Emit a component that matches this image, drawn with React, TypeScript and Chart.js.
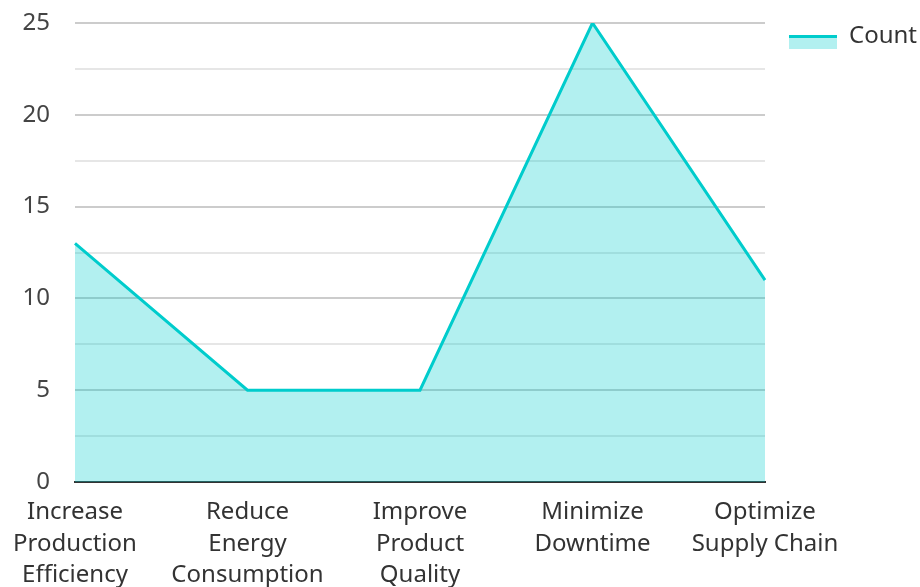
import React, { useEffect, useRef } from "react";
import { Chart, registerables } from "chart.js";

Chart.register(...registerables);

// Category labels, each split into its display lines
const categories: string[][] = [
  ["Increase", "Production", "Efficiency"],
  ["Reduce", "Energy", "Consumption"],
  ["Improve", "Product", "Quality"],
  ["Minimize", "Downtime"],
  ["Optimize", "Supply Chain"],
];

const seriesName = "Count";
const counts: number[] = [13, 5, 5, 25, 11];

const yMin = 0;
const yMax = 25;
const yStep = 2.5;
const yLabelStep = 5;

const LINE_COLOR = "#00CCCC";
const FILL_COLOR = "rgba(0, 204, 204, 0.30)";
const FONT = "'Noto Sans', 'Open Sans', sans-serif";
const FONT_SIZE = 24;

// Legend swatch: a line on top of a filled area, sitting a little below the text middle
function makeSwatch(): HTMLCanvasElement {
  const c = document.createElement("canvas");
  c.width = 48;
  c.height = 26;
  const g = c.getContext("2d")!;
  g.fillStyle = FILL_COLOR;
  g.fillRect(0, 12, 48, 14);
  g.fillStyle = LINE_COLOR;
  g.fillRect(0, 12, 48, 3);
  return c;
}

export default function App() {
  const ref = useRef<HTMLCanvasElement>(null);

  useEffect(() => {
    if (!ref.current) return;
    const swatch = makeSwatch();
    const chart = new Chart(ref.current, {
      type: "line",
      data: {
        labels: categories,
        datasets: [
          {
            label: seriesName,
            data: counts,
            borderColor: LINE_COLOR,
            backgroundColor: FILL_COLOR,
            borderWidth: 3,
            fill: "origin",
            tension: 0,
            pointRadius: 0,
            pointHoverRadius: 0,
            pointStyle: swatch as any,
          },
        ],
      },
      options: {
        responsive: false,
        animation: false,
        layout: { padding: 0 },
        plugins: {
          tooltip: { enabled: false },
          legend: {
            position: "right",
            align: "start",
            maxWidth: 155,
            labels: {
              usePointStyle: true,
              pointStyleWidth: 48,
              color: "#333",
              font: { family: FONT, size: FONT_SIZE },
              padding: 24,
            },
          },
        },
        scales: {
          x: {
            offset: false,
            grid: { display: false, drawTicks: false },
            border: { display: true, color: "#333", width: 2 },
            ticks: {
              color: "#333",
              font: { family: FONT, size: FONT_SIZE, lineHeight: 1.3 },
              padding: 15,
              maxRotation: 0,
              autoSkip: false,
            },
            afterFit: (s: any) => {
              s.height = 105;
              s.paddingLeft = 0;
              s.paddingRight = 155;
            },
          },
          y: {
            min: yMin,
            max: yMax,
            border: { display: false },
            grid: {
              drawTicks: false,
              color: (ctx: any) =>
                ctx.tick && ctx.tick.value % yLabelStep === 0 ? "#cccccc" : "#e6e6e6",
              lineWidth: 2,
            },
            ticks: {
              stepSize: yStep,
              padding: 25,
              color: "#444",
              font: { family: FONT, size: FONT_SIZE },
              callback: (v: any) => (Number(v) % yLabelStep === 0 ? String(v) : ""),
            },
            afterFit: (s: any) => {
              s.width = 75;
              s.paddingTop = 23;
              s.paddingBottom = 0;
            },
          },
        },
      },
    });
    return () => chart.destroy();
  }, []);

  return (
    <div style={{ position: "fixed", left: 0, top: 0, width: 920, height: 587, background: "#fff" }}>
      <canvas ref={ref} width={920} height={587} style={{ display: "block" }} />
    </div>
  );
}
